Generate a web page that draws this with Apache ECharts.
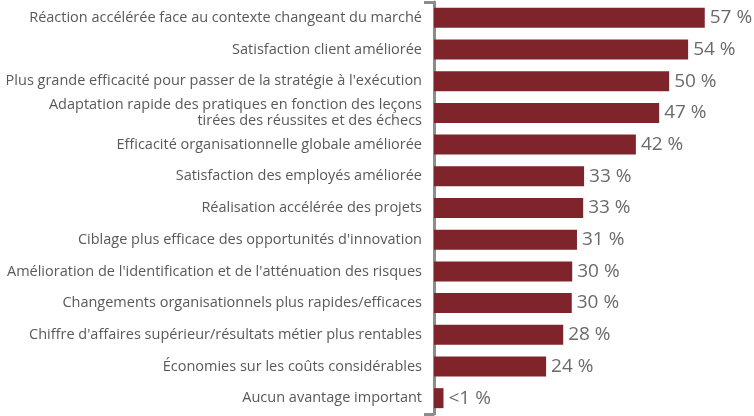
<!DOCTYPE html>
<html>
<head>
<meta charset="utf-8">
<script src="https://cdn.jsdelivr.net/npm/echarts@6/dist/echarts.min.js"></script>
<style>
html, body { margin: 0; padding: 0; background: #fff; }
#main { width: 754px; height: 416px; }
</style>
</head>
<body>
<div id="main"></div>
<script>
var categories = [
	'Réaction accélérée face au contexte changeant du marché',
	'Satisfaction client améliorée',
	'Plus grande efficacité pour passer de la stratégie à l\'exécution',
	'Adaptation rapide des pratiques en fonction des leçons\ntirées des réussites et des échecs',
	'Efficacité organisationnelle globale améliorée',
	'Satisfaction des employés améliorée',
	'Réalisation accélérée des projets',
	'Ciblage plus efficace des opportunités d\'innovation',
	'Amélioration de l\'identification et de l\'atténuation des risques',
	'Changements organisationnels plus rapides/efficaces',
	'Chiffre d\'affaires supérieur/résultats métier plus rentables',
	'Économies sur les coûts considérables',
	'Aucun avantage important'
];
// longueurs des barres
var values = [57, 53.5, 49.5, 47.4, 42.5, 31.6, 31.4, 30.1, 29.1, 29, 27.2, 23.6, 2];
// textes affichés au bout des barres
var valueLabels = ['57 %', '54 %', '50 %', '47 %', '42 %', '33 %', '33 %', '31 %', '30 %', '30 %', '28 %', '24 %', '<1 %'];

var myChart = echarts.init(document.getElementById('main'));

var option = {
	animation: false,
	grid: {
		left: 434,
		right: 35,
		top: 2,
		bottom: 2
	},
	xAxis: {
		type: 'value',
		min: 0,
		max: 60,
		show: false
	},
	yAxis: {
		type: 'category',
		inverse: true,
		data: categories,
		axisLine: {
			lineStyle: { color: '#8c8c8c', width: 3 }
		},
		//seulement les deux extrémités
		axisTick: {
			show: true,
			length: 10,
			interval: function (i) { return i === 0; },
			lineStyle: { color: '#8c8c8c', width: 3 }
		},
		axisLabel: {
			margin: 12,
			color: '#595959',
			fontFamily: 'Open Sans',
			fontSize: 14.5,
			lineHeight: 16,
			align: 'right'
		}
	},
	series: [{
		type: 'bar',
		data: values,
		barWidth: 20,
		itemStyle: { color: '#7f242a' },
		label: {
			show: true,
			position: 'right',
			distance: 5,
			color: '#6b6b6b',
			fontFamily: 'Open Sans',
			fontSize: 19,
			formatter: function (p) { return valueLabels[p.dataIndex]; }
		}
	}]
};

myChart.setOption(option);
</script>
</body>
</html>
